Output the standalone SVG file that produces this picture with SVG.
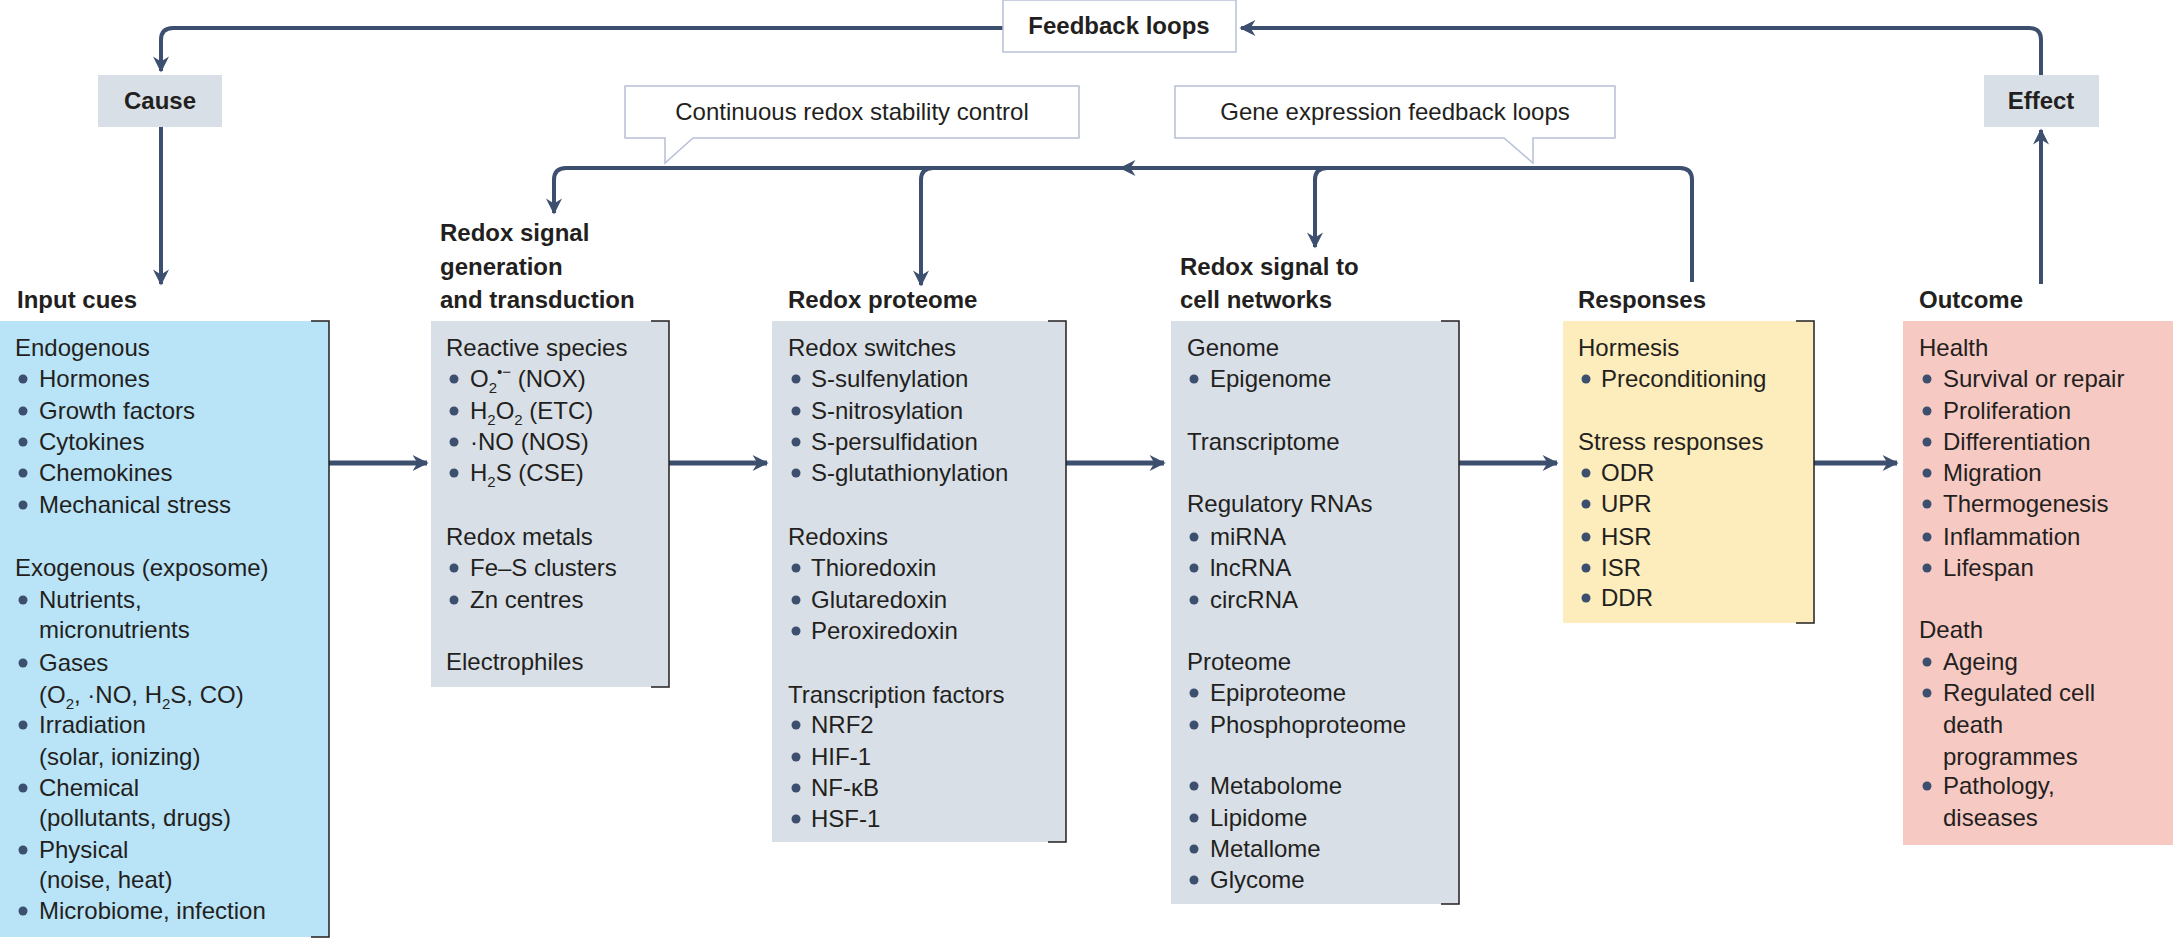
<svg xmlns="http://www.w3.org/2000/svg" width="2173" height="938" viewBox="0 0 2173 938">
<style>
text{font-family:"Liberation Sans",Arial,sans-serif;font-size:24px;fill:#231f20}
.h{font-weight:bold}
.ln{fill:none;stroke:#3d4f6e;stroke-width:4}
.ar{fill:none;stroke:#3d4f6e;stroke-width:5}
.br{fill:none;stroke:#231f20;stroke-width:1.5}
.cb{fill:#fff;stroke:#b8c0d8;stroke-width:1.5}
.bl{fill:#3d4f6e}
.s{font-size:15px}
</style>
<defs>
<marker id="a" viewBox="0 0 10 10" refX="9" refY="5" markerWidth="22" markerHeight="16" markerUnits="userSpaceOnUse" orient="auto">
<path d="M0,0 L10,5 L0,10 L3,5 z" fill="#3d4f6e"/>
</marker>
</defs>
<g id="connectors">
<path class="ln" d="M1003,28 H173 Q161,28 161,40 V71" marker-end="url(#a)"/>
<path class="ln" d="M2041,75 V40 Q2041,28 2029,28 H1241" marker-end="url(#a)"/>
<path class="ln" d="M161,127 V284" marker-end="url(#a)"/>
<path class="ln" d="M2041,284 V130" marker-end="url(#a)"/>
<path class="ln" d="M1692,282 V180 Q1692,168 1680,168 H1121" marker-end="url(#a)"/>
<path class="ln" d="M1125,168 H566 Q554,168 554,180 V213" marker-end="url(#a)"/>
<path class="ln" d="M933,168 Q921,168 921,180 V285" marker-end="url(#a)"/>
<path class="ln" d="M1327,168 Q1315,168 1315,180 V247" marker-end="url(#a)"/>
<path class="ar" d="M329,463 H427" marker-end="url(#a)"/>
<path class="ar" d="M669,463 H767" marker-end="url(#a)"/>
<path class="ar" d="M1066,463 H1164" marker-end="url(#a)"/>
<path class="ar" d="M1459,463 H1557" marker-end="url(#a)"/>
<path class="ar" d="M1814,463 H1897" marker-end="url(#a)"/>
</g>
<g id="feedback">
<rect class="cb" x="1003" y="0" width="233" height="52"/>
<text class="h" x="1119" y="34" text-anchor="middle">Feedback loops</text>
</g>
<g id="cause">
<rect x="98" y="75" width="124" height="52" fill="#d9dfe7"/>
<text class="h" x="160" y="109" text-anchor="middle">Cause</text>
</g>
<g id="effect">
<rect x="1984" y="75" width="115" height="52" fill="#d9dfe7"/>
<text class="h" x="2041" y="109" text-anchor="middle">Effect</text>
</g>
<g id="callout1">
<path class="cb" d="M625,86 H1079 V138 H693 L665,163 V138 H625 Z"/>
<text x="852" y="120" text-anchor="middle">Continuous redox stability control</text>
</g>
<g id="callout2">
<path class="cb" d="M1175,86 H1615 V138 H1533 V163 L1504,138 H1175 Z"/>
<text x="1395" y="120" text-anchor="middle">Gene expression feedback loops</text>
</g>
<g id="input">
<text class="h" x="17" y="308">Input cues</text>
<rect x="0" y="321" width="329" height="616" fill="#b9e3f7"/>
<path class="br" d="M311,321 H329 V937 H311"/>
<text x="15" y="356">Endogenous</text>
<g class="bl"><circle cx="23" cy="379" r="4.5"/><circle cx="23" cy="411" r="4.5"/><circle cx="23" cy="442" r="4.5"/><circle cx="23" cy="473" r="4.5"/><circle cx="23" cy="505" r="4.5"/><circle cx="23" cy="600" r="4.5"/><circle cx="23" cy="663" r="4.5"/><circle cx="23" cy="725" r="4.5"/><circle cx="23" cy="788" r="4.5"/><circle cx="23" cy="850" r="4.5"/><circle cx="23" cy="911" r="4.5"/></g>
<text x="39" y="387">Hormones</text>
<text x="39" y="419">Growth factors</text>
<text x="39" y="450">Cytokines</text>
<text x="39" y="481">Chemokines</text>
<text x="39" y="513">Mechanical stress</text>
<text x="15" y="576">Exogenous (exposome)</text>
<text x="39" y="608">Nutrients,</text>
<text x="39" y="638">micronutrients</text>
<text x="39" y="671">Gases</text>
<text x="39" y="703">(O<tspan class="s" dy="6">2</tspan><tspan dy="-6">, ·NO, H</tspan><tspan class="s" dy="6">2</tspan><tspan dy="-6">S, CO)</tspan></text>
<text x="39" y="733">Irradiation</text>
<text x="39" y="765">(solar, ionizing)</text>
<text x="39" y="796">Chemical</text>
<text x="39" y="826">(pollutants, drugs)</text>
<text x="39" y="858">Physical</text>
<text x="39" y="888">(noise, heat)</text>
<text x="39" y="919">Microbiome, infection</text>
</g>
<g id="generation">
<text class="h" x="440" y="241">Redox signal</text>
<text class="h" x="440" y="275">generation</text>
<text class="h" x="440" y="308">and transduction</text>
<rect x="431" y="321" width="238" height="366" fill="#d9dfe7"/>
<path class="br" d="M651,321 H669 V687 H651"/>
<text x="446" y="356">Reactive species</text>
<g class="bl"><circle cx="454" cy="379" r="4.5"/><circle cx="454" cy="411" r="4.5"/><circle cx="454" cy="442" r="4.5"/><circle cx="454" cy="473" r="4.5"/><circle cx="454" cy="568" r="4.5"/><circle cx="454" cy="600" r="4.5"/></g>
<text x="470" y="387">O<tspan class="s" dy="6">2</tspan><tspan class="s" dy="-16">•−</tspan><tspan dy="10"> (NOX)</tspan></text>
<text x="470" y="419">H<tspan class="s" dy="6">2</tspan><tspan dy="-6">O</tspan><tspan class="s" dy="6">2</tspan><tspan dy="-6"> (ETC)</tspan></text>
<text x="470" y="450">·NO (NOS)</text>
<text x="470" y="481">H<tspan class="s" dy="6">2</tspan><tspan dy="-6">S (CSE)</tspan></text>
<text x="446" y="545">Redox metals</text>
<text x="470" y="576">Fe–S clusters</text>
<text x="470" y="608">Zn centres</text>
<text x="446" y="670">Electrophiles</text>
</g>
<g id="proteome">
<text class="h" x="788" y="308">Redox proteome</text>
<rect x="772" y="321" width="294" height="521" fill="#d9dfe7"/>
<path class="br" d="M1048,321 H1066 V842 H1048"/>
<text x="788" y="356">Redox switches</text>
<g class="bl"><circle cx="796" cy="379" r="4.5"/><circle cx="796" cy="411" r="4.5"/><circle cx="796" cy="442" r="4.5"/><circle cx="796" cy="473" r="4.5"/><circle cx="796" cy="568" r="4.5"/><circle cx="796" cy="600" r="4.5"/><circle cx="796" cy="631" r="4.5"/><circle cx="796" cy="725" r="4.5"/><circle cx="796" cy="757" r="4.5"/><circle cx="796" cy="788" r="4.5"/><circle cx="796" cy="819" r="4.5"/></g>
<text x="811" y="387">S-sulfenylation</text>
<text x="811" y="419">S-nitrosylation</text>
<text x="811" y="450">S-persulfidation</text>
<text x="811" y="481">S-glutathionylation</text>
<text x="788" y="545">Redoxins</text>
<text x="811" y="576">Thioredoxin</text>
<text x="811" y="608">Glutaredoxin</text>
<text x="811" y="639">Peroxiredoxin</text>
<text x="788" y="703">Transcription factors</text>
<text x="811" y="733">NRF2</text>
<text x="811" y="765">HIF-1</text>
<text x="811" y="796">NF-κB</text>
<text x="811" y="827">HSF-1</text>
</g>
<g id="networks">
<text class="h" x="1180" y="275">Redox signal to</text>
<text class="h" x="1180" y="308">cell networks</text>
<rect x="1171" y="321" width="288" height="583" fill="#d9dfe7"/>
<path class="br" d="M1441,321 H1459 V904 H1441"/>
<text x="1187" y="356">Genome</text>
<g class="bl"><circle cx="1194" cy="379" r="4.5"/><circle cx="1194" cy="537" r="4.5"/><circle cx="1194" cy="568" r="4.5"/><circle cx="1194" cy="600" r="4.5"/><circle cx="1194" cy="693" r="4.5"/><circle cx="1194" cy="725" r="4.5"/><circle cx="1194" cy="786" r="4.5"/><circle cx="1194" cy="818" r="4.5"/><circle cx="1194" cy="849" r="4.5"/><circle cx="1194" cy="880" r="4.5"/></g>
<text x="1210" y="387">Epigenome</text>
<text x="1187" y="450">Transcriptome</text>
<text x="1187" y="512">Regulatory RNAs</text>
<text x="1210" y="545">miRNA</text>
<text x="1210" y="576">lncRNA</text>
<text x="1210" y="608">circRNA</text>
<text x="1187" y="670">Proteome</text>
<text x="1210" y="701">Epiproteome</text>
<text x="1210" y="733">Phosphoproteome</text>
<text x="1210" y="794">Metabolome</text>
<text x="1210" y="826">Lipidome</text>
<text x="1210" y="857">Metallome</text>
<text x="1210" y="888">Glycome</text>
</g>
<g id="responses">
<text class="h" x="1578" y="308">Responses</text>
<rect x="1563" y="321" width="251" height="302" fill="#fdecbc"/>
<path class="br" d="M1796,321 H1814 V623 H1796"/>
<text x="1578" y="356">Hormesis</text>
<g class="bl"><circle cx="1586" cy="379" r="4.5"/><circle cx="1586" cy="473" r="4.5"/><circle cx="1586" cy="504" r="4.5"/><circle cx="1586" cy="537" r="4.5"/><circle cx="1586" cy="568" r="4.5"/><circle cx="1586" cy="598" r="4.5"/></g>
<text x="1601" y="387">Preconditioning</text>
<text x="1578" y="450">Stress responses</text>
<text x="1601" y="481">ODR</text>
<text x="1601" y="512">UPR</text>
<text x="1601" y="545">HSR</text>
<text x="1601" y="576">ISR</text>
<text x="1601" y="606">DDR</text>
</g>
<g id="outcome">
<text class="h" x="1919" y="308">Outcome</text>
<rect x="1903" y="321" width="270" height="524" fill="#f7c9c3"/>
<text x="1919" y="356">Health</text>
<g class="bl"><circle cx="1927" cy="379" r="4.5"/><circle cx="1927" cy="411" r="4.5"/><circle cx="1927" cy="442" r="4.5"/><circle cx="1927" cy="473" r="4.5"/><circle cx="1927" cy="504" r="4.5"/><circle cx="1927" cy="537" r="4.5"/><circle cx="1927" cy="568" r="4.5"/><circle cx="1927" cy="662" r="4.5"/><circle cx="1927" cy="693" r="4.5"/><circle cx="1927" cy="786" r="4.5"/></g>
<text x="1943" y="387">Survival or repair</text>
<text x="1943" y="419">Proliferation</text>
<text x="1943" y="450">Differentiation</text>
<text x="1943" y="481">Migration</text>
<text x="1943" y="512">Thermogenesis</text>
<text x="1943" y="545">Inflammation</text>
<text x="1943" y="576">Lifespan</text>
<text x="1919" y="638">Death</text>
<text x="1943" y="670">Ageing</text>
<text x="1943" y="701">Regulated cell</text>
<text x="1943" y="733">death</text>
<text x="1943" y="765">programmes</text>
<text x="1943" y="794">Pathology,</text>
<text x="1943" y="826">diseases</text>
</g>
</svg>
